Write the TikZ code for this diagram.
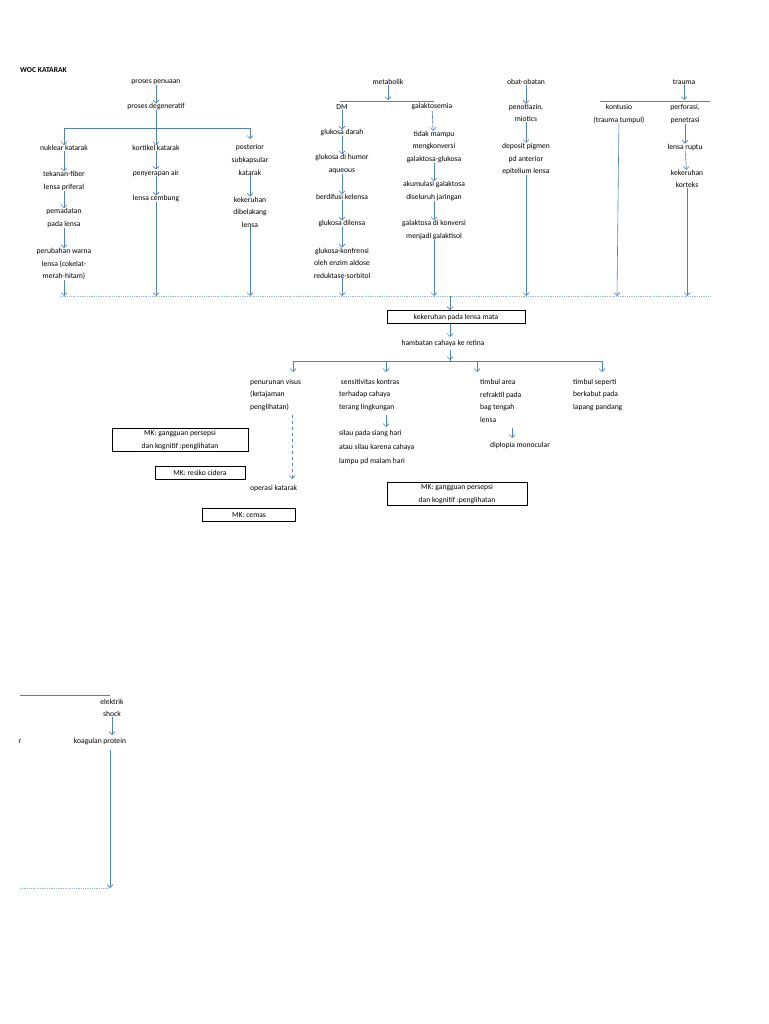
\documentclass[tikz,border=0pt]{standalone}
\usepackage{fontspec}
\setmainfont{Carlito}
\usetikzlibrary{arrows.meta}
\definecolor{bl}{HTML}{4F81BD}
\begin{document}
\begin{tikzpicture}[x=1pt,y=-1pt,
 t/.style={inner sep=0pt,align=center,font=\fontsize{7.6}{12.6}\selectfont},
 tl/.style={t,align=left,anchor=west},
 ar/.style={bl,semithick,-{Straight Barb[length=3pt,width=6pt]}},
 ln/.style={bl,semithick},
 dl/.style={bl!60,densely dotted,thick},
 mk/.style={t,draw=black,thick,minimum height=13pt,inner sep=2pt}]
\fill[white] (0,0) rectangle (768,1024);
\node[tl] (title) at (20,70) {\textbf{WOC KATARAK}};
% left group
\node[t] (pp) at (156,82) {proses penuaan};
\node[t] (pd) at (156,107) {proses degeneratif};
\draw[ar] (pp) -- (pd);
\coordinate (b1) at (156,128);
\draw[ln] (pd) -- (b1);
\draw[ln] (64,128) -- (250,128);
\node[t] (nk) at (64,148) {nuklear katarak};
\node[t] (kk) at (156,148) {kortikel katarak};
\node[t] (ps) at (250,160) {posterior\\subkapsular\\katarak};
\draw[ar] (64,128) -- (nk);
\draw[ar] (156,128) -- (kk);
\draw[ar] (250,128) -- (250,139);
\node[t] (tf) at (64,181) {tekanan-fiber\\lensa priferal};
\node[t] (pl) at (64,218) {pemadatan\\pada lensa};
\node[t] (pw) at (64,264) {perubahan warna\\lensa (cokelat-\\merah-hitam)};
\draw[ar] (nk) -- (tf); \draw[ar] (tf) -- (pl); \draw[ar] (pl) -- (pw);
\node[t] (pa) at (156,173) {penyerapan air};
\node[t] (lc) at (156,199) {lensa cembung};
\draw[ar] (kk) -- (pa); \draw[ar] (pa) -- (lc);
\node[t] (kd) at (250,212) {kekeruhan\\dibelakang\\lensa};
\draw[ar] (ps) -- (kd);
% metabolik
\node[t] (mb) at (388,82) {metabolik};
\draw[ar] (mb) -- (388,100);
\draw[ln] (340,101) -- (434,101);
\node[t] (dm) at (342,107) {DM};
\node[t] (gs) at (432,107) {galaktosemia};
\node[t] (gd) at (342,133) {glukosa darah};
\node[t] (gh) at (342,164) {glukosa di humor\\aqueous};
\node[t] (bk) at (342,197) {berdifusi kelensa};
\node[t] (gl) at (342,224) {glukosa dilensa};
\node[t] (gk) at (342,263) {glukosa-konfrensi\\oleh enzim aldose\\reduktase-sorbitol};
\draw[ar] (dm) -- (gd); \draw[ar] (gd) -- (gh); \draw[ar] (gh) -- (bk);
\draw[ar] (bk) -- (gl); \draw[ar] (gl) -- (gk);
\node[t] (tm) at (434,147) {tidak mampu\\mengkonversi\\galaktosa-glukosa};
\node[t] (ag) at (434,191) {akumulasi galaktosa\\diseluruh jaringan};
\node[t] (gg) at (434,230) {galaktosa di konversi\\menjadi galaktisol};
\draw[ar] (gs) -- (tm); \draw[ar] (tm) -- (ag); \draw[ar] (ag) -- (gg);
% obat
\node[t] (ob) at (526,82) {obat-obatan};
\node[t] (pn) at (526,113) {penotiazin,\\miotics};
\node[t] (dp) at (526,159) {deposit pigmen\\pd anterior\\epitelium lensa};
\draw[ar] (ob) -- (pn); \draw[ar] (pn) -- (dp);
% trauma
\node[t] (tr) at (684,82) {trauma};
\draw[ar] (tr) -- (684,100);
\draw[ln] (600,101) -- (710,101);
\node[t] (kt) at (619,114) {kontusio\\(trauma tumpul)};
\node[t] (pf) at (685,114) {perforasi,\\penetrasi};
\node[t] (lr) at (685,147) {lensa ruptu};
\node[t] (kr) at (687,179) {kekeruhan\\korteks};
\draw[ar] (pf) -- (lr); \draw[ar] (lr) -- (kr);
% collector
\draw[dl] (60,296) -- (710,296);
\draw[ar] (pw) -- (64,296);
\draw[ar] (lc) -- (156,296);
\draw[ar] (kd) -- (250,296);
\draw[ar] (gk) -- (342,296);
\draw[ar] (gg) -- (434,296);
\draw[ar] (dp) -- (526,296);
\draw[ar] (kt) -- (617,296);
\draw[ar] (kr) -- (687,296);
\node[mk,minimum width=138pt] (kp) at (456,317) {kekeruhan pada lensa mata};
\draw[ar] (450,296) -- (kp.north -| 450,0);
\node[t] (hc) at (443,343) {hambatan cahaya ke retina};
\draw[ar] (kp.south -| 450,0) -- (450,337);
\draw[ln] (450,350) -- (450,361);
\draw[ln] (293,361) -- (603,361);
\draw[ar] (450,350) -- (450,360);
\draw[ar] (293,361) -- (293,372);
\draw[ar] (386,361) -- (386,372);
\draw[ar] (477,361) -- (477,372);
\draw[ar] (602,361) -- (602,372);
\node[tl] (pv) at (250,395) {penurunan visus\\(ketajaman\\penglihatan)};
\node[tl] (sk) at (339,395) {\ sensitivitas kontras\\terhadap cahaya\\terang lingkungan};
\node[tl] (ta) at (480,401) {timbul area\\refraktil pada\\bag tengah\\lensa};
\node[tl] (ts) at (573,395) {timbul seperti\\berkabut pada\\lapang pandang};
\node[tl,align=left,font=\fontsize{7.6}{14}\selectfont] (si) at (339,447) {silau pada siang hari\\atau silau karena cahaya\\lampu pd malam hari};
\draw[ar] (386,415) -- (386,427);
\node[t] (dmo) at (520,445) {diplopia monocular};
\draw[ar] (512,428) -- (512,438);
\node[tl] (ok) at (250,488) {operasi katarak};
\draw[ar,dashed] (292,415) -- (292,479);
\node[mk,minimum width=136pt] (m1) at (180,440) {MK: gangguan persepsi\\dan kognitif :penglihatan};
\node[mk,minimum width=90pt,align=left] (m2) at (200,473) {MK: resiko cidera\hfill};
\node[mk,minimum width=93pt] (m3) at (249,515) {MK: cemas};
\node[mk,minimum width=140pt] (m4) at (457,494) {MK: gangguan persepsi\\dan kognitif :penglihatan};
% bottom fragment
\draw[ln] (20,695) -- (110,695);
\node[t] (es) at (112,708) {elektrik\\shock};
\node[t] (kp2) at (100,742) {koagulan protein};
\node[t] (rr) at (20,742) {r};
\draw[ar] (es) -- (112,735);
\draw[ar] (110,750) -- (110,888);
\draw[dl] (20,888) -- (110,888);
\end{tikzpicture}
\end{document}
